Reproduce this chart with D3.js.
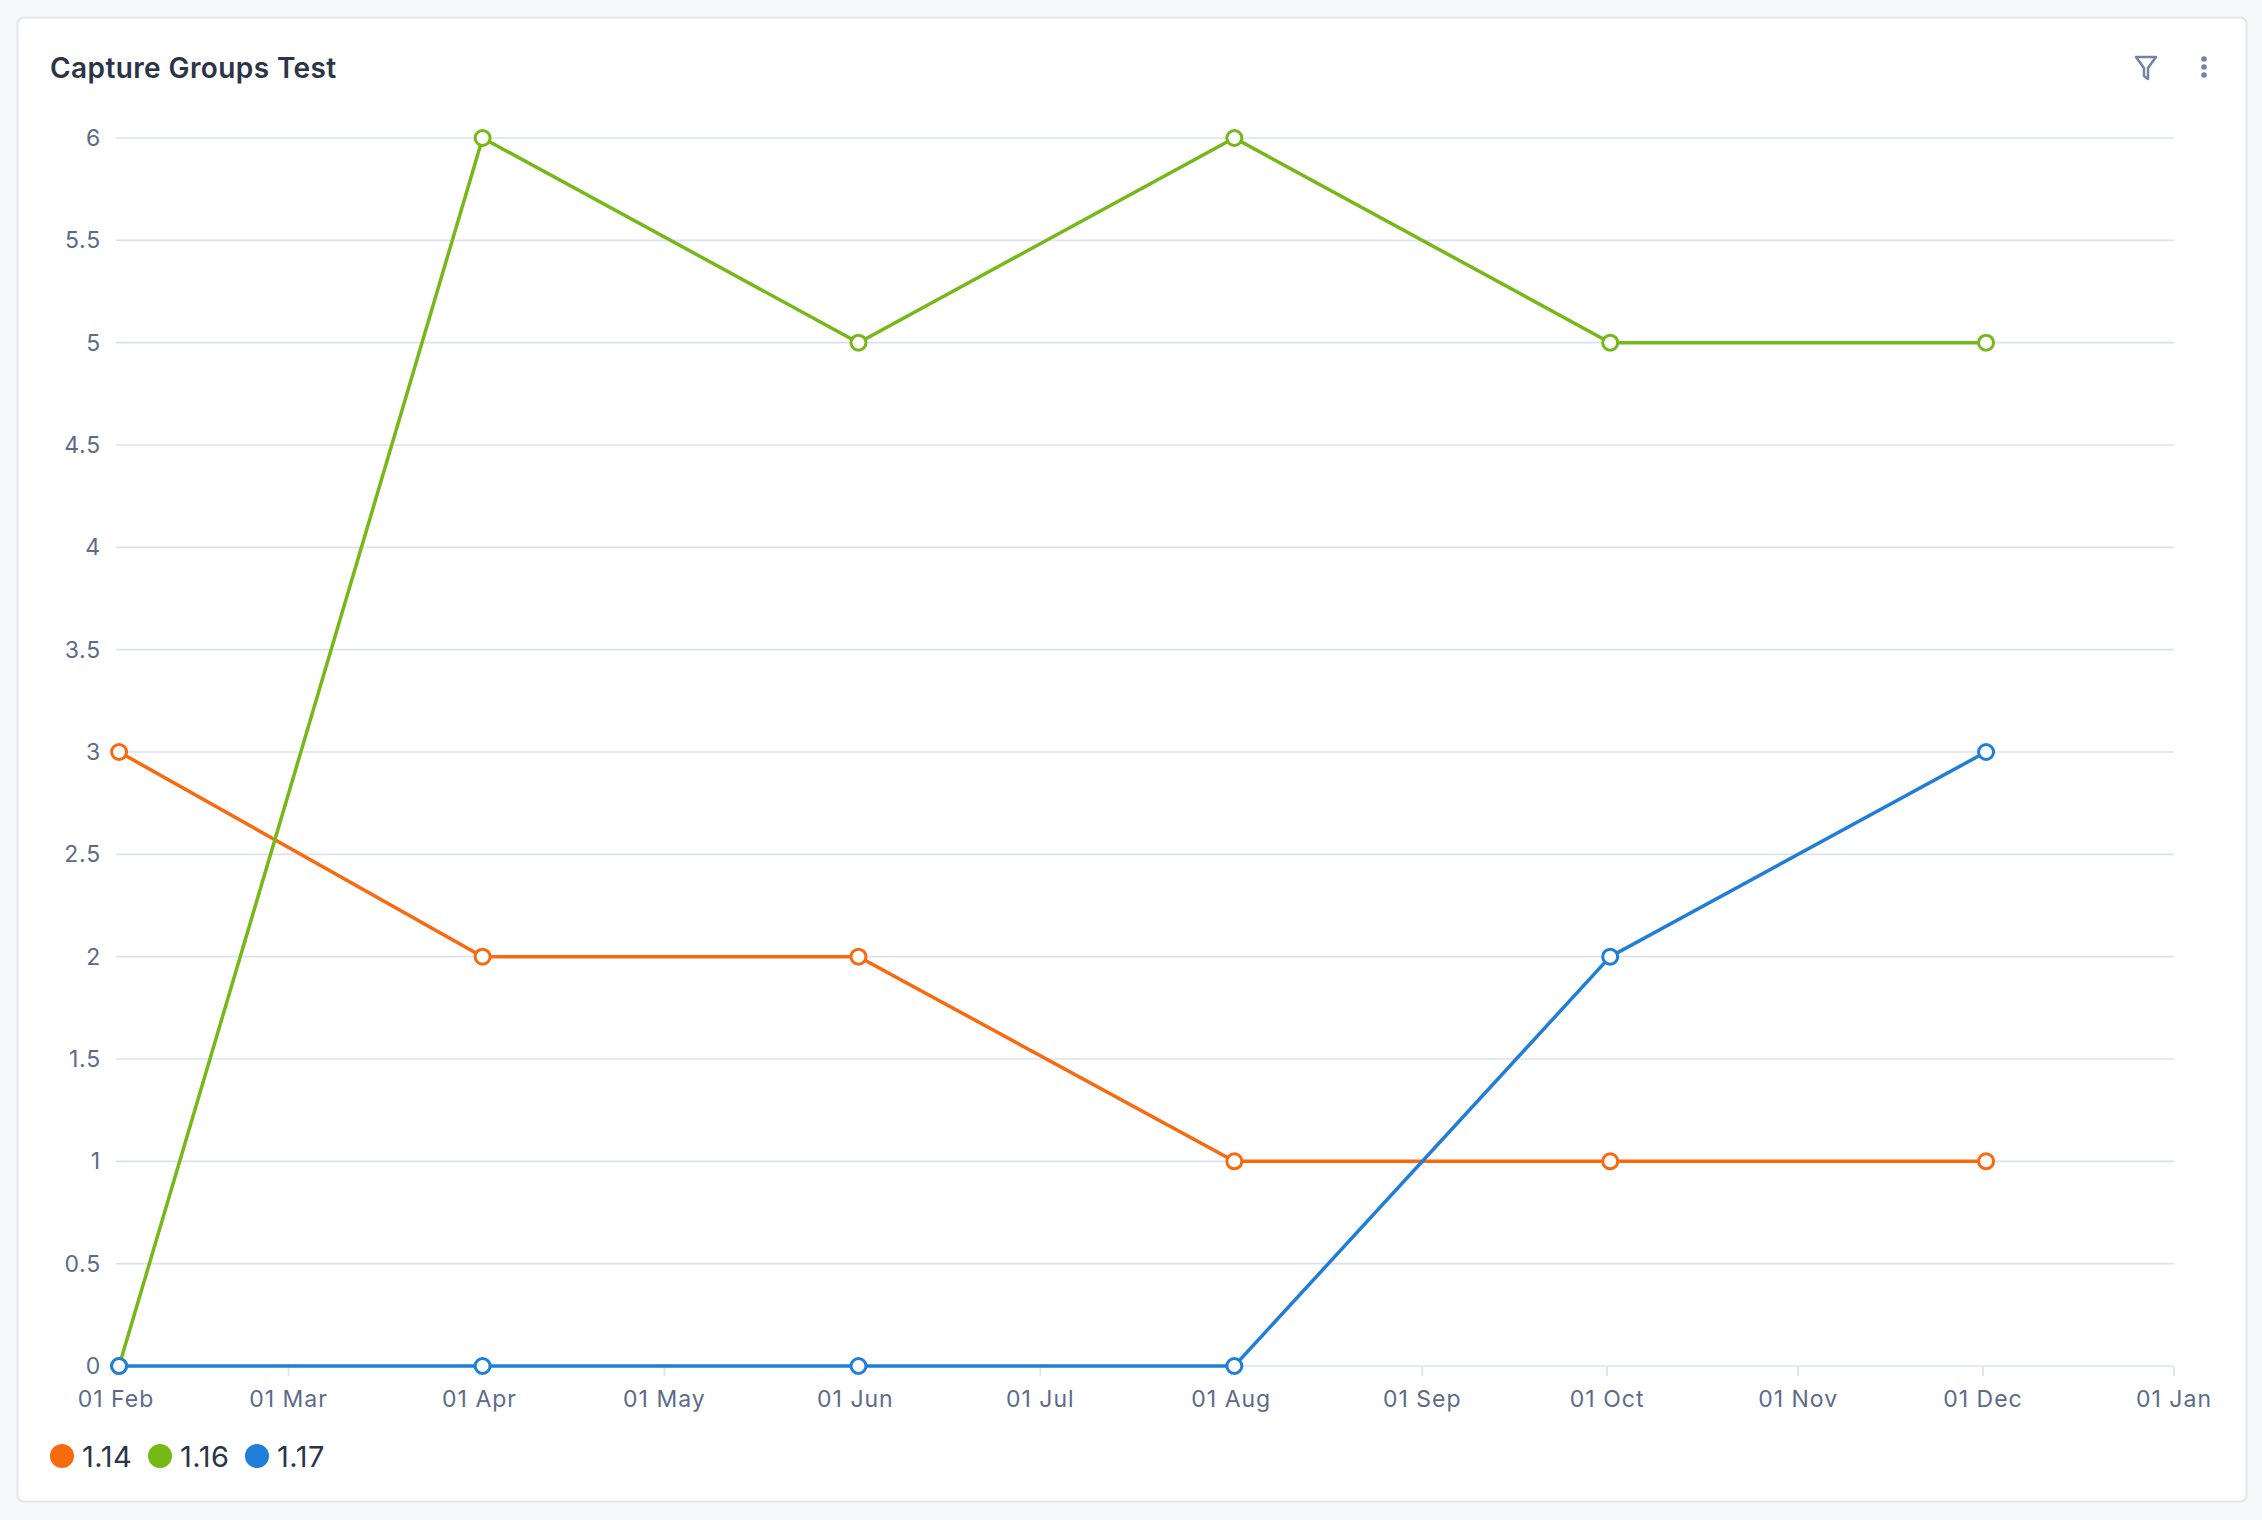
<!DOCTYPE html>
<html>
<head>
<meta charset="utf-8">
<script src="https://cdn.jsdelivr.net/npm/d3@7"></script>
<style>
  body { margin: 0; background: #f7f8fa; font-family: Inter, "Noto Sans", sans-serif; }
</style>
</head>
<body>
<div id="chart"></div>
<script>
const dates = ['2023-02-01', '2023-04-01', '2023-06-01', '2023-08-01', '2023-10-01', '2023-12-01'];
const seriesNames = ['1.14', '1.16', '1.17'];
const seriesColors = ['#f96a0e', '#76b817', '#1f7ed9'];
const values114 = [3, 2, 2, 1, 1, 1];
const values116 = [0, 6, 5, 6, 5, 5];
const values117 = [0, 0, 0, 0, 2, 3];
const yTicks = [0, 0.5, 1, 1.5, 2, 2.5, 3, 3.5, 4, 4.5, 5, 5.5, 6];

const W = 2262, H = 1520;
const margin = { left: 116, right: 2174, top: 138, bottom: 1366 };

const svg = d3.select('#chart').append('svg').attr('width', W).attr('height', H);

// card
svg.append('rect')
    .attr('x', 17.5).attr('y', 17.5)
    .attr('width', 2229).attr('height', 1484)
    .attr('rx', 6)
    .style('fill', '#fff')
    .style('stroke', '#e2e6ee')
    .style('stroke-width', 2);

svg.append('text')
    .attr('x', 50).attr('y', 78)
    .style('font-size', '28px')
    .style('font-weight', 600)
    .style('letter-spacing', '0.4px')
    .style('fill', '#2b3449')
    .text('Capture Groups Test');

// icons: filter + dots
svg.append('path')
    .attr('d', 'M2136,57 L2156,57 L2148,68 L2148,79 L2144,76 L2144,68 Z')
    .style('fill', 'none').style('stroke', '#7184a8').style('stroke-width', 2.5)
    .style('stroke-linejoin', 'round');
[59, 67, 75].forEach(cy => svg.append('circle').attr('cx', 2204).attr('cy', cy).attr('r', 2.8).style('fill', '#7184a8'));

const parse = d3.timeParse('%Y-%m-%d %H');
const x = d3.scaleTime()
    .domain([parse('2023-02-01 0'), parse('2024-01-01 0')])
    .range([margin.left, margin.right]);
const y = d3.scaleLinear().domain([0, 6]).range([margin.bottom, margin.top]);

// gridlines
svg.append('g').selectAll('line').data(yTicks).join('line')
    .attr('x1', margin.left).attr('x2', margin.right)
    .attr('y1', d => y(d)).attr('y2', d => y(d))
    .style('stroke', '#dbe2ee').style('stroke-width', 1.7);

svg.append('g').selectAll('text').data(yTicks).join('text')
    .attr('x', 101).attr('y', d => y(d) + 8)
    .style('text-anchor', 'end')
    .style('font-size', '23px')
    .style('letter-spacing', '0.8px')
    .style('fill', '#5c6b8a')
    .text(d => d);

// x axis
const xTicks = d3.timeMonth.range(parse('2023-02-01 0'), parse('2024-01-02 0'));
const fmt = d3.timeFormat('%d %b');
svg.append('g').selectAll('line').data(xTicks).join('line')
    .attr('x1', d => x(d)).attr('x2', d => x(d))
    .attr('y1', margin.bottom + 1).attr('y2', margin.bottom + 10)
    .style('stroke', '#dbe2ee').style('stroke-width', 1.7);
svg.append('g').selectAll('text').data(xTicks).join('text')
    .attr('x', d => x(d)).attr('y', 1407)
    .style('text-anchor', 'middle')
    .style('font-size', '23px')
    .style('letter-spacing', '1px')
    .style('fill', '#5c6b8a')
    .text(d => fmt(d));

// series
const allValues = [values114, values116, values117];
const line = d3.line().x(d => x(d[0])).y(d => y(d[1]));
allValues.forEach((vals, i) => {
    const pts = vals.map((v, j) => [parse(dates[j] + ' 12'), v]);
    svg.append('path').datum(pts)
        .attr('d', line)
        .style('fill', 'none')
        .style('stroke', seriesColors[i])
        .style('stroke-width', 3.5);
    svg.append('g').selectAll('circle').data(pts).join('circle')
        .attr('cx', d => x(d[0])).attr('cy', d => y(d[1]))
        .attr('r', 7.5)
        .style('fill', '#fff')
        .style('stroke', seriesColors[i])
        .style('stroke-width', 3);
});

// legend
const legendX = [62, 160, 257];
seriesNames.forEach((name, i) => {
    svg.append('circle').attr('cx', legendX[i]).attr('cy', 1456).attr('r', 12)
        .style('fill', seriesColors[i]);
    svg.append('text').attr('x', legendX[i] + 20).attr('y', 1467)
        .style('font-size', '29px').style('letter-spacing', '0.5px').style('fill', '#2b3449')
        .text(name);
});
</script>
</body>
</html>
